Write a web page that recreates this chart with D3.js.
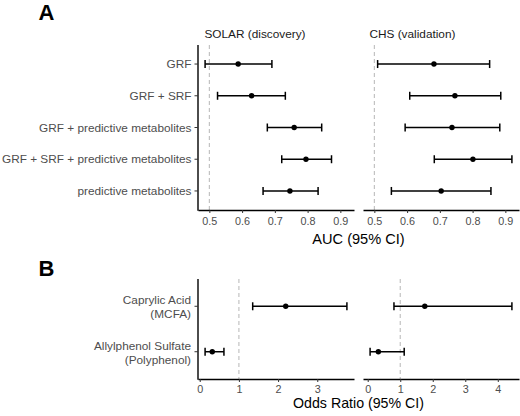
<!DOCTYPE html>
<html>
<head>
<meta charset="utf-8">
<script src="https://cdn.jsdelivr.net/npm/d3@7.9.0/dist/d3.min.js"></script>
<style>
  body { margin: 0; background: #fff; }
  svg text { font-family: "Liberation Sans", Arial, Helvetica, sans-serif; }
</style>
</head>
<body>
<svg id="chart" width="520" height="416"></svg>
<script>
// panel A: AUC by model, two cohorts
const models = ['GRF', 'GRF + SRF', 'GRF + predictive metabolites',
  'GRF + SRF + predictive metabolites', 'predictive metabolites'];
const cohorts = ['SOLAR (discovery)', 'CHS (validation)'];
const aucEst = [[0.588, 0.629, 0.759, 0.795, 0.746], [0.682, 0.746, 0.737, 0.801, 0.704]];
const aucLow = [[0.487, 0.525, 0.677, 0.721, 0.664], [0.510, 0.608, 0.594, 0.683, 0.552]];
const aucHigh = [[0.691, 0.732, 0.843, 0.873, 0.832], [0.852, 0.886, 0.883, 0.920, 0.856]];
const aucTicks = [0.5, 0.6, 0.7, 0.8, 0.9];

// panel B: odds ratios by metabolite
const metabolites = [['Caprylic Acid', '(MCFA)'], ['Allylphenol Sulfate', '(Polyphenol)']];
const orEst = [[2.195, 0.32], [1.755, 0.327]];
const orLow = [[1.352, 0.137], [0.807, 0.073]];
const orHigh = [[3.757, 0.618], [4.434, 1.122]];
const orTicks = [[0, 1, 2, 3], [0, 1, 2, 3, 4]];

const svg = d3.select('#chart');
const panelX = [[198, 354], [363, 519]];
const tickGrey = '#4d4d4d';

function expanded(lo, hi) {
  const pad = (hi - lo) * 0.05;
  return [lo - pad, hi + pad];
}

function drawFacets(opts) {
  const { rows, est, low, high, yRange, domains, ticks, ref, rowLabel, pad } = opts;
  const y = d3.scalePoint().domain(d3.range(rows.length)).range(yRange).padding(0.6);

  panelX.forEach((xr, p) => {
    const x = d3.scaleLinear().domain(domains[p]).range(xr);
    const g = svg.append('g');

    g.append('line')
      .attr('x1', x(ref)).attr('x2', x(ref))
      .attr('y1', yRange[0]).attr('y2', yRange[1])
      .attr('stroke', '#bdbdbd').attr('stroke-width', 1.1)
      .attr('stroke-dasharray', '4,3');

    const ax = g.append('g')
      .attr('transform', `translate(0,${yRange[1]})`)
      .call(d3.axisBottom(x).tickValues(ticks[p]).tickSize(3).tickSizeOuter(0)
        .tickPadding(pad).tickFormat(d => d));
    ax.select('.domain').attr('stroke', '#000').attr('stroke-width', 1.4);
    ax.selectAll('.tick line').attr('stroke', '#333').attr('stroke-width', 1);
    ax.selectAll('.tick text').attr('fill', tickGrey).attr('font-size', 10.8);

    rows.forEach((r, i) => {
      const cy = y(i);
      const bar = g.append('g').attr('stroke', '#000').attr('stroke-width', 1.5);
      bar.append('line').attr('x1', x(low[p][i])).attr('x2', x(high[p][i]))
        .attr('y1', cy).attr('y2', cy);
      [low[p][i], high[p][i]].forEach(v => {
        bar.append('line').attr('x1', x(v)).attr('x2', x(v))
          .attr('y1', cy - 4).attr('y2', cy + 4);
      });
      g.append('circle').attr('cx', x(est[p][i])).attr('cy', cy).attr('r', 2.7)
        .attr('fill', '#000');
    });
  });

  // y axis on the left panel only
  const left = panelX[0][0];
  svg.append('line')
    .attr('x1', left).attr('x2', left)
    .attr('y1', yRange[0]).attr('y2', yRange[1] + 0.7)
    .attr('stroke', '#000').attr('stroke-width', 1.4);
  rows.forEach((r, i) => {
    svg.append('line')
      .attr('x1', left - 3.5).attr('x2', left).attr('y1', y(i)).attr('y2', y(i))
      .attr('stroke', '#333');
    rowLabel(r, y(i));
  });
}

// panel A
drawFacets({
  rows: models, est: aucEst, low: aucLow, high: aucHigh,
  yRange: [45, 210], pad: 4.5,
  domains: [0, 1].map(() => expanded(d3.min(aucLow.flat()), d3.max(aucHigh.flat()))),
  ticks: [aucTicks, aucTicks], ref: 0.5,
  rowLabel: (r, cy) => {
    svg.append('text').attr('x', 191.5).attr('y', cy).attr('dy', '0.36em')
      .attr('text-anchor', 'end').attr('font-size', 11.8).attr('fill', tickGrey).text(r);
  }
});

cohorts.forEach((c, p) => {
  svg.append('text').attr('x', panelX[p][0] + 6.5).attr('y', 37.5)
    .attr('font-size', 11.8).attr('fill', '#1a1a1a').text(c);
});

svg.append('text').attr('x', 358.5).attr('y', 244).attr('text-anchor', 'middle')
  .attr('font-size', 14.6).attr('fill', '#000').text('AUC (95% CI)');

// panel B
drawFacets({
  rows: metabolites, est: orEst, low: orLow, high: orHigh,
  yRange: [279, 379], pad: 3.3,
  domains: [0, 1].map(p => expanded(d3.min(orLow[p]), d3.max(orHigh[p]))),
  ticks: orTicks, ref: 1,
  rowLabel: (r, cy) => {
    const t = svg.append('text').attr('text-anchor', 'end')
      .attr('font-size', 11.8).attr('fill', tickGrey);
    t.append('tspan').attr('x', 191).attr('y', cy - 2).text(r[0]);
    t.append('tspan').attr('x', 191).attr('y', cy + 12).text(r[1]);
  }
});

svg.append('text').attr('x', 358.5).attr('y', 408.3).attr('text-anchor', 'middle')
  .attr('font-size', 14.2).attr('fill', '#000').text('Odds Ratio (95% CI)');

// panel tags
[['A', 20], ['B', 276]].forEach(([t, yy]) => {
  svg.append('text').attr('x', 38.5).attr('y', yy).attr('font-size', 22)
    .attr('font-weight', 'bold').attr('fill', '#000').text(t);
});
</script>
</body>
</html>
